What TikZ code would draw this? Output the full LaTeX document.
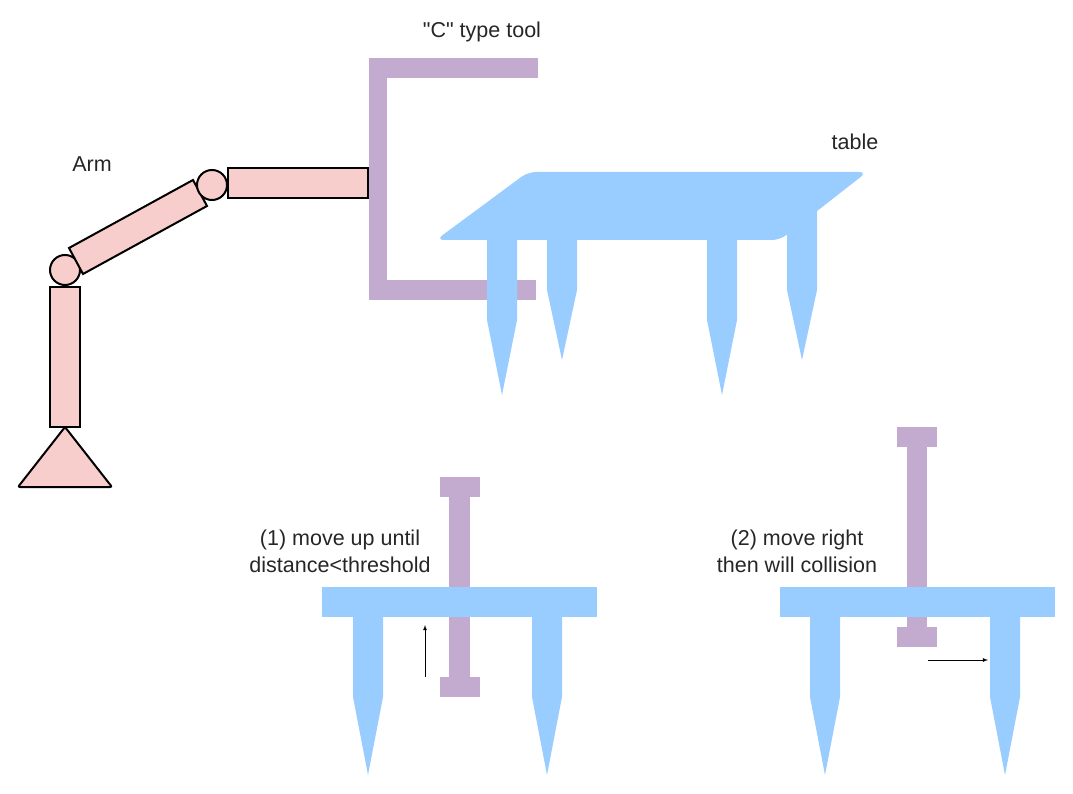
\documentclass[tikz,border=0pt]{standalone}
\usepackage{fontspec}
\setmainfont{Liberation Sans}[Ligatures=TeXReset]
\begin{document}
\begin{tikzpicture}[x=1pt,y=-1pt,
  arm/.style={fill=armpink,draw=black,line width=2pt},
  tool/.style={fill=toolpurple,draw=none},
  tab/.style={fill=tableblue,draw=none},
  lbl/.style={font=\fontsize{21.5}{27}\selectfont,align=center,text=black!85},
  mv/.style={-latex,line width=0.8pt}]
\definecolor{armpink}{HTML}{F8CECC}
\definecolor{toolpurple}{HTML}{C3ABD0}
\definecolor{tableblue}{HTML}{99CCFF}
\useasboundingbox (0,0) rectangle (1073,794);
% arm
\draw[arm,rounded corners=2pt] (65,427) -- (112,487) -- (18,487) -- cycle;
\draw[arm] (50,287) rectangle (80,427);
\draw[arm] (65,270) circle (15);
\draw[arm] (69,248) -- (193,180) -- (207,206) -- (83,274) -- cycle;
\draw[arm] (212,185) circle (15);
\draw[arm] (228,168) rectangle (368,198);
% C tool
\fill[tool] (369,58) rectangle (387,300);
\fill[tool] (369,58) rectangle (538,78);
\fill[tool] (369,280) rectangle (536,300);
% table perspective
\fill[tab] (487,230) -- (517,230) -- (517,320) -- (502,395) -- (487,320) -- cycle;
\fill[tab] (547,230) -- (577,230) -- (577,290) -- (562,360) -- (547,290) -- cycle;
\fill[tab] (707,230) -- (737,230) -- (737,320) -- (722,395) -- (707,320) -- cycle;
\fill[tab] (787,205) -- (817,205) -- (817,290) -- (802,360) -- (787,290) -- cycle;
\fill[tab,rounded corners=8pt] (436,240) -- (528,172) -- (867,172) -- (780,240) -- cycle;
% bottom left
\fill[tool] (449,477) rectangle (470,697);
\fill[tool] (440,477) rectangle (480,497);
\fill[tool] (440,677) rectangle (480,697);
\fill[tab] (322,587) rectangle (597,617);
\fill[tab] (353,617) -- (383,617) -- (383,697) -- (368,775) -- (353,697) -- cycle;
\fill[tab] (532,617) -- (562,617) -- (562,697) -- (547,775) -- (532,697) -- cycle;
\coordinate (a1) at (425,677); \coordinate (a2) at (425,625);
\draw[mv] (a1) -- (a2);
% bottom right
\fill[tool] (907,427) rectangle (927,647);
\fill[tool] (897,427) rectangle (937,447);
\fill[tool] (897,627) rectangle (937,647);
\fill[tab] (780,587) rectangle (1055,617);
\fill[tab] (810,617) -- (840,617) -- (840,697) -- (825,775) -- (810,697) -- cycle;
\fill[tab] (990,617) -- (1020,617) -- (1020,697) -- (1005,775) -- (990,697) -- cycle;
\coordinate (b1) at (928,660); \coordinate (b2) at (988,660);
\draw[mv] (b1) -- (b2);
% labels
\node[lbl] (t1) at (482,32) {"C" type tool};
\node[lbl] (t2) at (855,142) {table};
\node[lbl] (t3) at (92,164) {Arm};
\node[lbl] (t4) at (340,551) {(1) move up until\\distance<threshold};
\node[lbl] (t5) at (797,551) {(2) move right\\then will collision};
\end{tikzpicture}
\end{document}
